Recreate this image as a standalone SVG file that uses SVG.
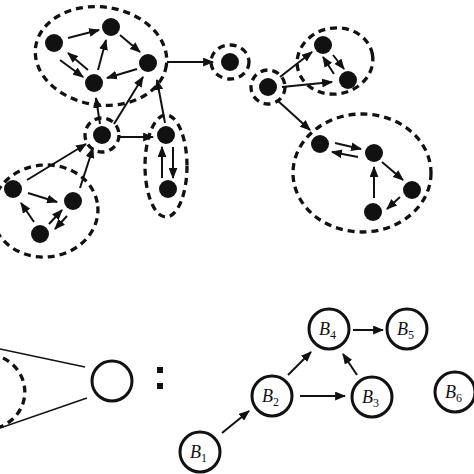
<svg xmlns="http://www.w3.org/2000/svg" width="474" height="474" viewBox="0 0 474 474">
<style>
.dot{fill:#111}
.grp{fill:none;stroke:#111;stroke-width:3.3;stroke-dasharray:7 5}
.e{stroke:#111;stroke-width:2;fill:none;marker-end:url(#ah)}
.ring{fill:#fff;stroke:#111;stroke-width:3}
.lb{font-family:"Liberation Serif",serif;font-style:italic;font-size:18px;fill:#111}
.sb{font-size:12px;font-style:normal}
.thin{stroke:#111;stroke-width:1.5;fill:none}
</style>
<defs>
<marker id="ah" viewBox="0 0 10 8" refX="9" refY="4" markerWidth="11" markerHeight="9" markerUnits="userSpaceOnUse" orient="auto">
<path d="M0,0 L10,4 L0,8 Z" fill="#111"/>
</marker>
</defs>
<g id="groups">
<ellipse class="grp" cx="101" cy="56" rx="66" ry="49" transform="rotate(8 101 56)"/>
<circle class="grp" cx="102" cy="135" r="17"/>
<ellipse class="grp" cx="166" cy="166" rx="21" ry="51"/>
<ellipse class="grp" cx="45" cy="211" rx="53" ry="46" transform="rotate(-5 45 211)"/>
<ellipse class="grp" cx="230" cy="62" rx="19" ry="17"/>
<circle class="grp" cx="268" cy="87" r="17"/>
<ellipse class="grp" cx="335" cy="61" rx="38" ry="33" transform="rotate(-10 335 61)"/>
<ellipse class="grp" cx="362" cy="173" rx="69" ry="59"/>
<path class="grp" d="M3,358 A40 38 0 0 1 0,427"/>
</g>
<g id="connectors">
<line class="e" x1="68" y1="38" x2="99" y2="30"/>
<line class="e" x1="120" y1="35" x2="140" y2="52"/>
<line class="e" x1="137" y1="69" x2="107" y2="78"/>
<line class="e" x1="98" y1="70" x2="106" y2="40"/>
<line class="e" x1="60" y1="60" x2="83" y2="77"/>
<line class="e" x1="88" y1="70" x2="68" y2="53"/>
<line class="e" x1="167" y1="62" x2="213" y2="62"/>
<line class="e" x1="100" y1="124" x2="96" y2="98"/>
<line class="e" x1="114" y1="124" x2="143" y2="77"/>
<line class="e" x1="165" y1="123" x2="157" y2="80"/>
<line class="e" x1="118" y1="137" x2="153" y2="137"/>
<line class="e" x1="173" y1="147" x2="173" y2="178"/>
<line class="e" x1="162" y1="178" x2="162" y2="147"/>
<line class="e" x1="27" y1="180" x2="86" y2="144"/>
<line class="e" x1="80" y1="188" x2="93" y2="148"/>
<line class="e" x1="28" y1="193" x2="57" y2="202"/>
<line class="e" x1="34" y1="222" x2="21" y2="203"/>
<line class="e" x1="49" y1="224" x2="62" y2="210"/>
<line class="e" x1="67" y1="216" x2="55" y2="229"/>
<line class="e" x1="280" y1="77" x2="312" y2="52"/>
<line class="e" x1="282" y1="87" x2="332" y2="82"/>
<line class="e" x1="333" y1="55" x2="344" y2="69"/>
<line class="e" x1="334" y1="74" x2="323" y2="57"/>
<line class="e" x1="277" y1="100" x2="310" y2="130"/>
<line class="e" x1="335" y1="143" x2="361" y2="149"/>
<line class="e" x1="358" y1="157" x2="332" y2="152"/>
<line class="e" x1="382" y1="162" x2="403" y2="180"/>
<line class="e" x1="400" y1="197" x2="387" y2="209"/>
<line class="e" x1="374" y1="198" x2="374" y2="167"/>
<line class="e" x1="222" y1="433" x2="249" y2="411"/>
<line class="e" x1="288" y1="375" x2="311" y2="352"/>
<line class="e" x1="300" y1="396" x2="345" y2="396"/>
<line class="e" x1="357" y1="375" x2="343" y2="354"/>
<line class="e" x1="353" y1="330" x2="383" y2="330"/>
<line class="thin" x1="0" y1="349" x2="85" y2="367"/>
<line class="thin" x1="0" y1="428" x2="87" y2="398"/>
</g>
<g id="n1"><circle class="dot" cx="54" cy="43" r="9"/></g>
<g id="n2"><circle class="dot" cx="111" cy="27" r="9"/></g>
<g id="n3"><circle class="dot" cx="148" cy="63" r="9"/></g>
<g id="n4"><circle class="dot" cx="94" cy="83" r="9"/></g>
<g id="n5"><circle class="dot" cx="102" cy="135" r="9"/></g>
<g id="n6"><circle class="dot" cx="166" cy="135" r="9"/></g>
<g id="n7"><circle class="dot" cx="168" cy="189" r="9"/></g>
<g id="n8"><circle class="dot" cx="13" cy="189" r="9"/></g>
<g id="n9"><circle class="dot" cx="73" cy="201" r="9"/></g>
<g id="n10"><circle class="dot" cx="40" cy="234" r="9"/></g>
<g id="n11"><circle class="dot" cx="230" cy="62" r="9"/></g>
<g id="n12"><circle class="dot" cx="268" cy="87" r="9"/></g>
<g id="n13"><circle class="dot" cx="323" cy="45" r="9"/></g>
<g id="n14"><circle class="dot" cx="348" cy="80" r="9"/></g>
<g id="n15"><circle class="dot" cx="320" cy="144" r="9"/></g>
<g id="n16"><circle class="dot" cx="374" cy="153" r="9"/></g>
<g id="n17"><circle class="dot" cx="412" cy="190" r="9"/></g>
<g id="n18"><circle class="dot" cx="373" cy="212" r="9"/></g>
<g id="bignode"><circle class="ring" cx="112" cy="381" r="20"/></g>
<g id="colon"><rect x="157" y="367" width="6" height="6" fill="#111"/><rect x="157" y="383" width="6" height="6" fill="#111"/></g>
<g id="B1"><circle class="ring" cx="200" cy="452" r="20"/><text class="lb" x="190" y="458">B<tspan class="sb" dy="4">1</tspan></text></g>
<g id="B2"><circle class="ring" cx="272" cy="396" r="20"/><text class="lb" x="262" y="402">B<tspan class="sb" dy="4">2</tspan></text></g>
<g id="B3"><circle class="ring" cx="372" cy="397" r="20"/><text class="lb" x="362" y="403">B<tspan class="sb" dy="4">3</tspan></text></g>
<g id="B4"><circle class="ring" cx="329" cy="329" r="20"/><text class="lb" x="319" y="335">B<tspan class="sb" dy="4">4</tspan></text></g>
<g id="B5"><circle class="ring" cx="407" cy="329" r="20"/><text class="lb" x="397" y="335">B<tspan class="sb" dy="4">5</tspan></text></g>
<g id="B6"><circle class="ring" cx="455" cy="392" r="20"/><text class="lb" x="445" y="398">B<tspan class="sb" dy="4">6</tspan></text></g>
</svg>
